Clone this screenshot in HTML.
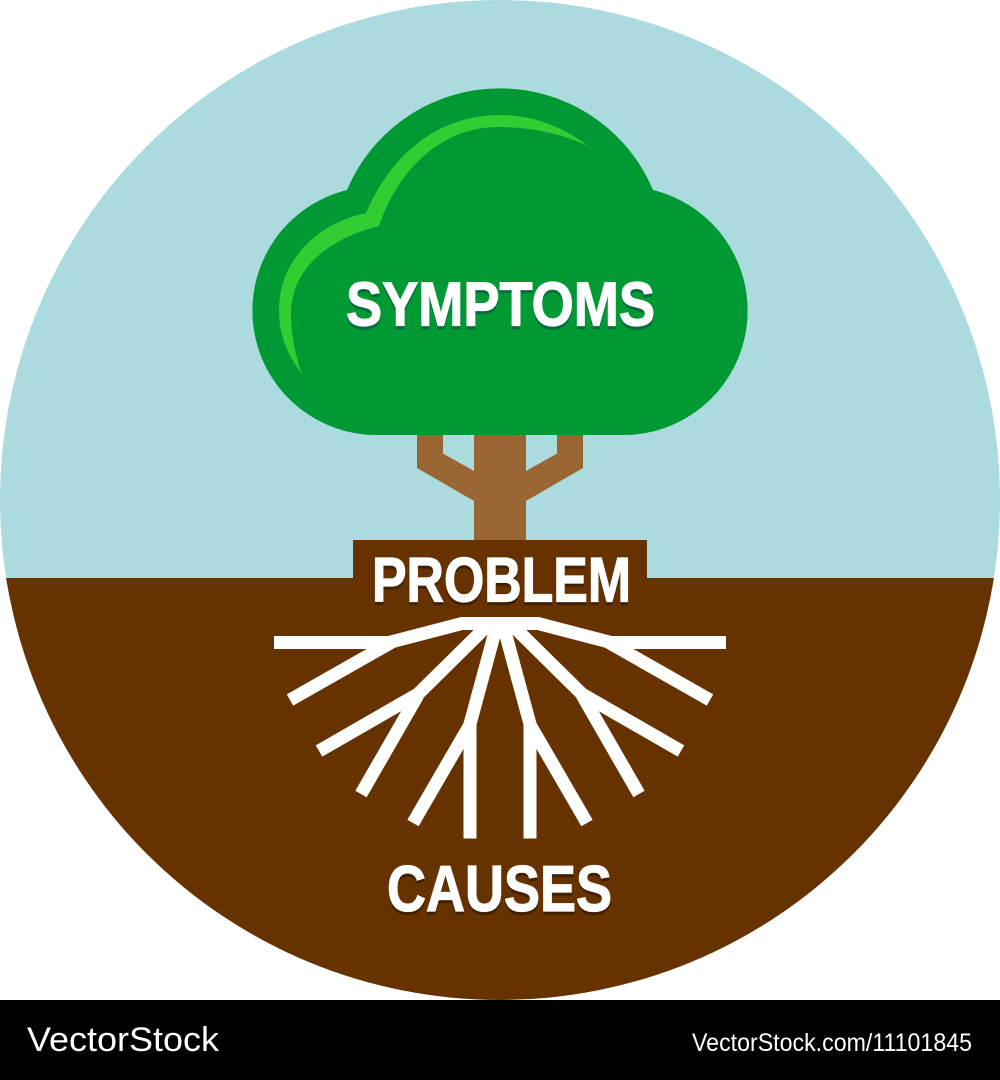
<!DOCTYPE html>
<html>
<head>
<meta charset="utf-8">
<style>
html,body{margin:0;padding:0;background:#fff;}
svg{display:block;}
text{font-family:"Liberation Sans",sans-serif;}
.t{font-weight:bold;fill:#fff;stroke:#fff;stroke-width:1.2px;}
</style>
</head>
<body>
<svg width="1000" height="1080" viewBox="0 0 1000 1080" xmlns="http://www.w3.org/2000/svg">
<defs>
<clipPath id="c"><circle cx="500" cy="500" r="500"/></clipPath>
</defs>
<rect width="1000" height="1080" fill="#fff"/>
<g clip-path="url(#c)">
<rect width="1000" height="578" fill="#acdbdf"/>
<rect y="578" width="1000" height="422" fill="#663300"/>
</g>
<polygon points="417,430 443,430 443,453.5 474,471 474,430 526,430 526,471 557,453.5 557,430 583,430 583,468 526,501 526,545 474,545 474,501 417,468" fill="#996633"/>
<rect x="353" y="540" width="294" height="45" fill="#663300"/>
<path d="M376 435A124.3 124.3 0 0 1 347 190A166 166 0 0 1 653 190A124.3 124.3 0 0 1 624 435Z" fill="#009933"/>
<path d="M302 374C285 352 279 332 279 310C279 262 315 224 366 213C392 152 440 115 500 115C535 115 565 128 588 146C560 133 530 127 498 127C445 127 400 165 379 226C330 238 291 268 291 314C291 335 296 358 302 374Z" fill="#33cc33"/>
<g fill="none" stroke="#fff" stroke-width="13" stroke-linejoin="miter">
<polyline points="274,642.5 389,642.5 462,623.5 538,623.5 611,642.5 726,642.5"/>
<line x1="290" y1="700" x2="392" y2="642"/>
<line x1="710" y1="700" x2="608" y2="642"/>
<polyline points="319,751 418,694 490,623"/>
<polyline points="681,751 582,694 510,623"/>
<line x1="361" y1="794" x2="418" y2="695"/>
<line x1="639" y1="794" x2="582" y2="695"/>
<polyline points="470,838.5 470,724 497.4,623"/>
<polyline points="530,838.5 530,724 502.6,623"/>
<line x1="413" y1="823" x2="471" y2="723"/>
<line x1="587" y1="823" x2="529" y2="723"/>
</g>
<text class="t" x="346" y="325.5" font-size="62" textLength="309" lengthAdjust="spacingAndGlyphs" style="filter:drop-shadow(0 3px 0 #006b3c)">SYMPTOMS</text>
<text class="t" x="372" y="601.5" font-size="63" textLength="259" lengthAdjust="spacingAndGlyphs" style="filter:drop-shadow(0 3px 0 #3f2000)">PROBLEM</text>
<text class="t" x="387" y="911" font-size="65" textLength="225" lengthAdjust="spacingAndGlyphs" style="filter:drop-shadow(0 3px 0 #3f2000)">CAUSES</text>
<rect y="1000" width="1000" height="80" fill="#000"/>
<text x="27" y="1051" font-size="34" fill="#fff" textLength="192" lengthAdjust="spacingAndGlyphs">VectorStock</text>
<text x="692" y="1051" font-size="25" fill="#fff" textLength="280" lengthAdjust="spacingAndGlyphs">VectorStock.com/11101845</text>
</svg>
</body>
</html>
